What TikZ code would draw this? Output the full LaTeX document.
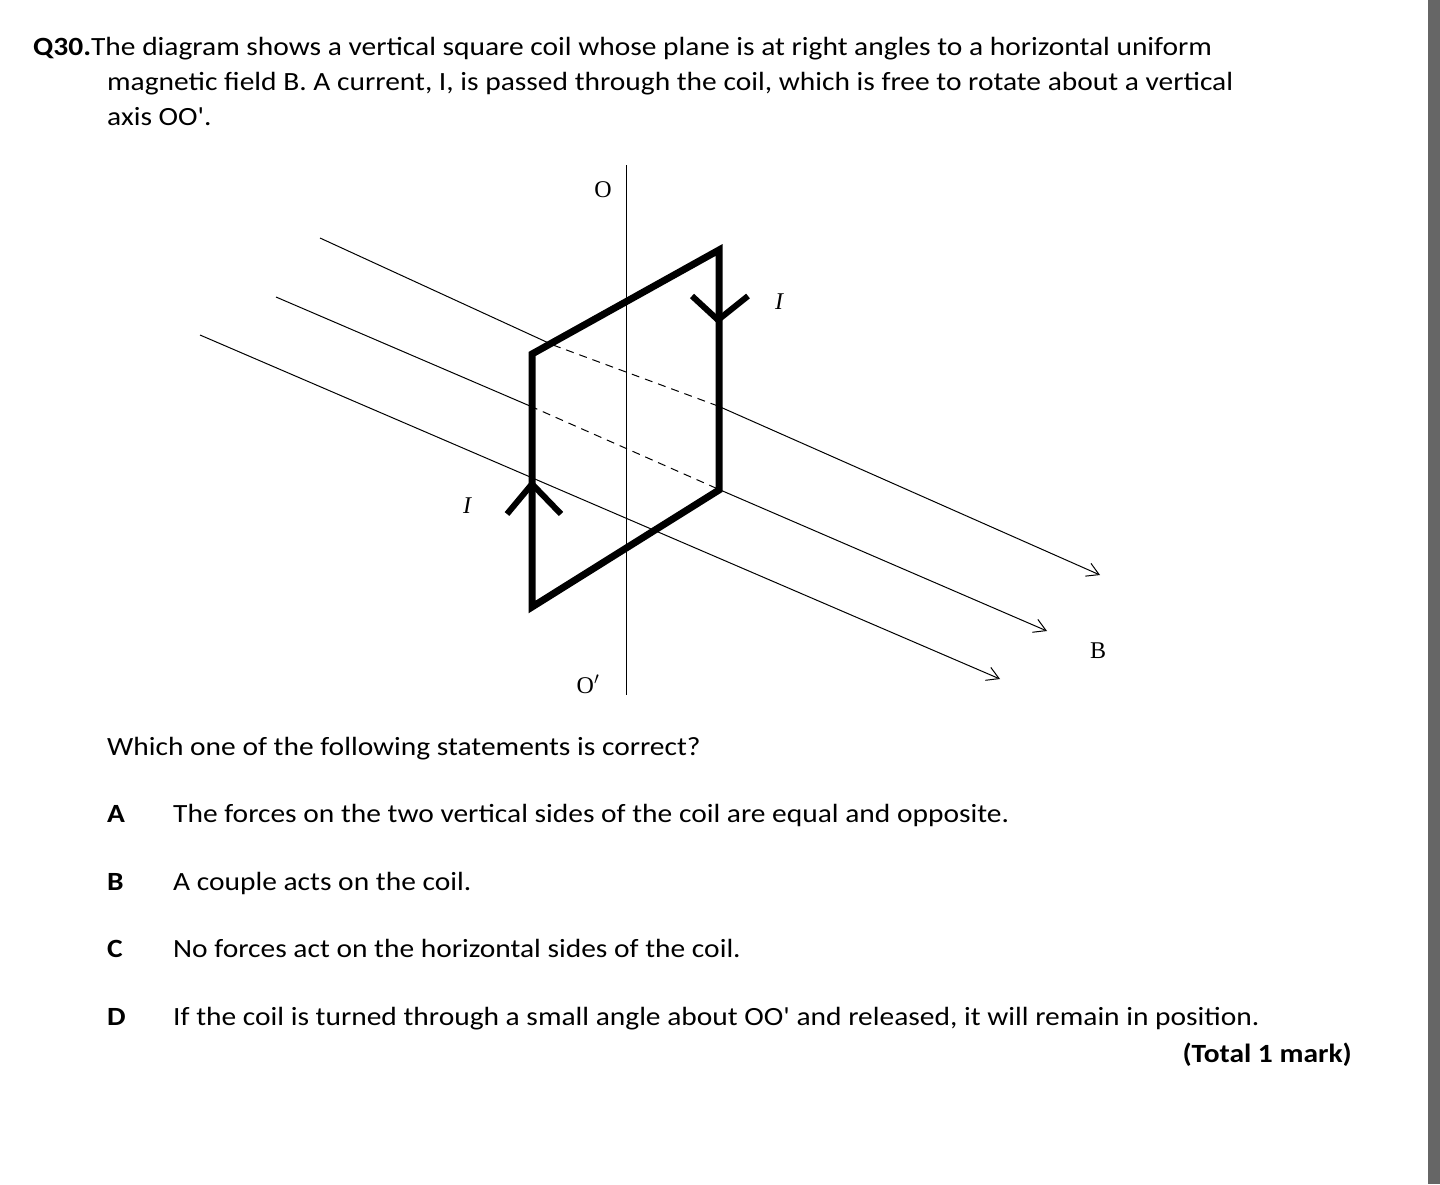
\documentclass[tikz,border=0pt]{standalone}
\usepackage{fontspec}
\setmainfont{Carlito}[FakeStretch=1.12,Ligatures=TeXOff]
\newfontfamily\diag{Liberation Serif}
\usetikzlibrary{arrows.meta}
\newcommand{\apos}{'}
\tikzset{
  txt/.style={anchor=base west,inner sep=0pt,font=\fontsize{26.3}{30}\selectfont},
  field/.style={line width=1pt,-{Straight Barb[length=12pt,width=14pt,line width=1pt]}},
  coil/.style={line width=7pt,line join=miter},
  chev/.style={line width=6pt,line join=miter},
  lab/.style={font=\diag\fontsize{24}{28}\selectfont,inner sep=0pt}
}
\begin{document}
\begin{tikzpicture}[x=1pt,y=-1pt]
\useasboundingbox (0,0) rectangle (1440,1184);
\fill[white] (0,0) rectangle (1440,1184);
\fill[black!60] (1428,0) rectangle (1440,1184);
% text
\node[txt] (t1) at (33,55) {\textbf{Q30.}The diagram shows a vertical square coil whose plane is at right angles to a horizontal uniform};
\node[txt] (t2) at (107,90) {magnetic field B. A current, I, is passed through the coil, which is free to rotate about a vertical};
\node[txt] (t3) at (107,125) {axis OO\apos.};
\node[txt] (q) at (107,755) {Which one of the following statements is correct?};
\node[txt] (la) at (107,822) {\textbf{A}};
\node[txt] (ta) at (173,822) {The forces on the two vertical sides of the coil are equal and opposite.};
\node[txt] (lb) at (107,890) {\textbf{B}};
\node[txt] (tb) at (173,890) {A couple acts on the coil.};
\node[txt] (lc) at (107,957) {\textbf{C}};
\node[txt] (tc) at (173,957) {No forces act on the horizontal sides of the coil.};
\node[txt] (ld) at (107,1025) {\textbf{D}};
\node[txt] (td) at (173,1025) {If the coil is turned through a small angle about OO\apos{} and released, it will remain in position.};
\node[txt,anchor=base east] (tot) at (1352,1062) {\textbf{(Total 1 mark)}};
% axis
\coordinate (ax1) at (626,165);
\coordinate (ax2) at (626,695);
\draw[line width=0.8pt] (ax1) -- (ax2);
% field lines
\coordinate (f1s) at (320,238); \coordinate (f1a) at (553,345); \coordinate (f1b) at (718,406); \coordinate (f1e) at (1100,575);
\coordinate (f2s) at (276,297); \coordinate (f2a) at (530,406); \coordinate (f2b) at (718,489); \coordinate (f2e) at (1047,631);
\coordinate (f3s) at (200,335); \coordinate (f3e) at (1000,679);
\draw[line width=1pt] (f1s) -- (f1a);
\draw[line width=1pt,dash pattern=on 8pt off 6pt] (f1a) -- (f1b);
\draw[field] (f1b) -- (f1e);
\draw[line width=1pt] (f2s) -- (f2a);
\draw[line width=1pt,dash pattern=on 8pt off 6pt] (f2a) -- (f2b);
\draw[field] (f2b) -- (f2e);
\draw[field] (f3s) -- (f3e);
% coil
\coordinate (tr) at (719,250); \coordinate (tl) at (532,354);
\coordinate (bl) at (532,607); \coordinate (br) at (719,490);
\draw[coil] (tr) -- (tl) -- (bl) -- (br) -- cycle;
% current chevrons
\coordinate (c1) at (718,320);
\draw[chev] (692,296) -- (c1) -- (748,296);
\coordinate (c2) at (532,484);
\draw[chev] (507,514) -- (c2) -- (561,514);
% labels
\node[lab] (lO) at (603,190) {O};
\node[lab] (lO2) at (588,684) {O$'$};
\node[lab] (lB) at (1098,651) {B};
\node[lab,font=\diag\itshape\fontsize{24}{28}\selectfont] (lI1) at (779,302) {I};
\node[lab,font=\diag\itshape\fontsize{24}{28}\selectfont] (lI2) at (467,506) {I};
\end{tikzpicture}
\end{document}
